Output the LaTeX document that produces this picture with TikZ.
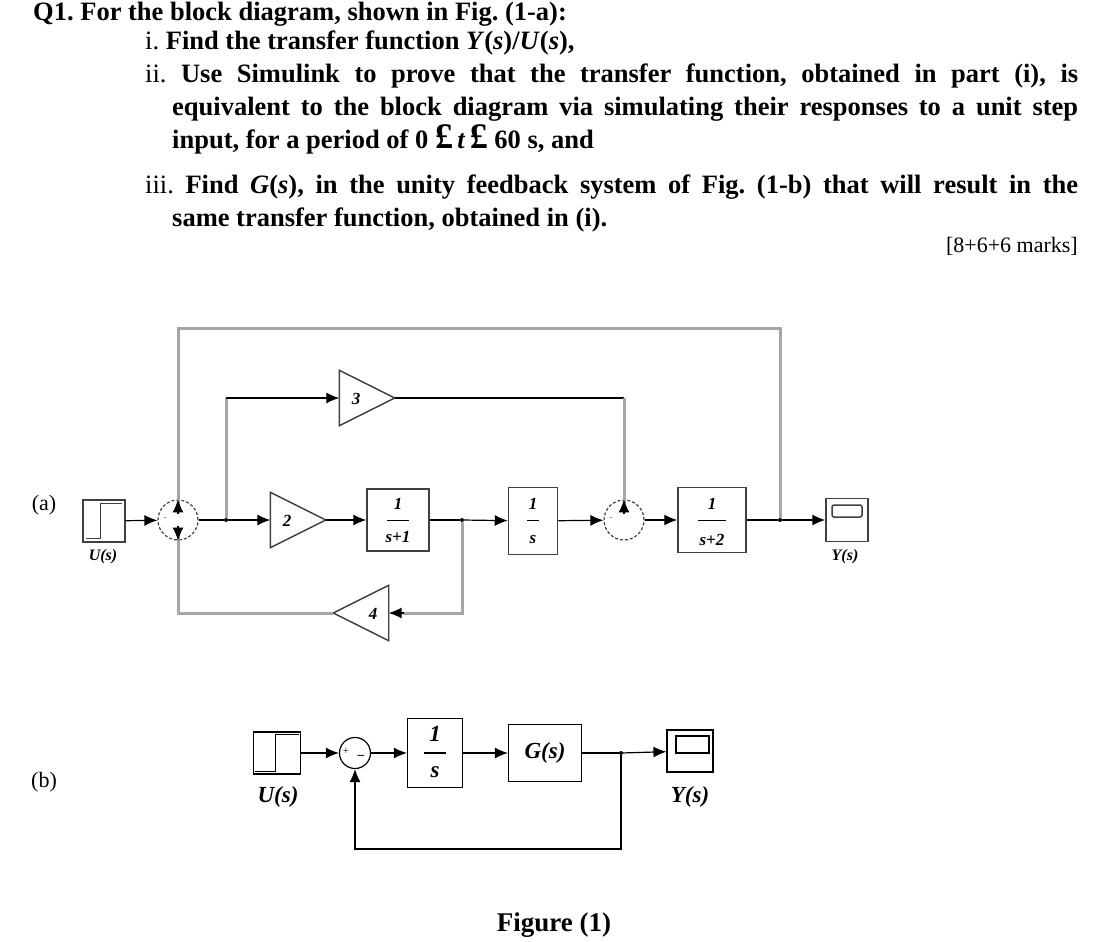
\documentclass[tikz,border=0pt]{standalone}
\usepackage{fontspec}
\setmainfont{Liberation Serif}
\usetikzlibrary{arrows.meta}
\frenchspacing
\begin{document}
\begin{tikzpicture}[x=1pt,y=-1pt,
  ar/.style={-{Latex[length=13pt,width=11pt]},line width=1.2pt},
  gl/.style={draw=gray!70,line width=3pt},
  blk/.style={draw=darkgray,line width=1.5pt,minimum width=#1,inner sep=0pt},
  sumj/.style={circle,draw=darkgray,densely dashed,line width=1.2pt,minimum size=40pt,inner sep=0pt},
  tri/.style={minimum width=55pt,minimum height=55pt,inner sep=0pt},
  dot/.style={circle,fill=black,inner sep=0pt,minimum size=4pt},
  frac/.style={font=\fontsize{17}{18}\selectfont\bfseries\itshape}]
\useasboundingbox (0,0) rectangle (1101,942);
% ---------- text ----------
\node[anchor=west,font=\fontsize{26.5}{30}\selectfont\bfseries,inner sep=0pt] (q) at (33,14) {Q1. For the block diagram, shown in Fig. (1-a):};
\node[anchor=north west,text width=933pt,align=justify,inner sep=0pt,font=\fontsize{26.5}{33}\selectfont] (t) at (145,31) {%
\hangindent=27pt\hangafter=1
i.\ \textbf{Find the transfer function \textit{Y}(\textit{s})/\textit{U}(\textit{s}),}\par
\hangindent=27pt\hangafter=1
ii.\ \textbf{Use Simulink to prove that the transfer function, obtained in part (i), is\linebreak equivalent to the block diagram via simulating their responses to a unit step\linebreak input, for a period of 0 {\fontsize{36}{30}\selectfont £}\,\textit{t}\,{\fontsize{36}{30}\selectfont £} 60 s, and}\par\vspace{12pt}
\hangindent=27pt\hangafter=1
iii.\ \textbf{Find \textit{G}(\textit{s}), in the unity feedback system of Fig. (1-b) that will result in the\linebreak same transfer function, obtained in (i).}\par};
\node[anchor=east,font=\fontsize{22}{24}\selectfont,inner sep=0pt] (mk) at (1078,246) {[8+6+6 marks]};
\node[font=\fontsize{22}{24}\selectfont] (la) at (44,505) {(a)};
\node[font=\fontsize{22}{24}\selectfont] (lb) at (44,782) {(b)};
\node[font=\fontsize{27}{30}\selectfont\bfseries] (fig) at (554,925) {Figure (1)};
% ---------- diagram (a) ----------
\node[blk=42pt,minimum height=42pt] (u) at (104,521) {};
\draw[line width=1.2pt,darkgray] ([shift={(4,-4)}]u.south west) -- ([shift={(18,-4)}]u.south west) -- ([shift={(18,4)}]u.north west) -- ([shift={(-4,4)}]u.north east);
\node[font=\fontsize{16}{16}\selectfont\bfseries\itshape] (ul) at (103,557) {U(s)};
\node[sumj] (s1) at (178,520) {};
\node[font=\scriptsize] at (178,506) {-};
\node[font=\scriptsize] at (165,519) {-};
\node[font=\scriptsize] at (178,531) {-};
\node[dot] (b1) at (226,520) {};
\node[tri] (g2) at (298,520) {};
\draw[darkgray,line width=1.4pt] (g2.north west) -- (g2.east) -- (g2.south west) -- cycle;
\node[frac] at (287,521) {2};
\node[blk=62pt,minimum height=62pt] (h1) at (398,520) {};
\node[frac] at (398,504) {1};
\draw[line width=1pt] (387,520) -- (409,520);
\node[frac] at (398,537) {s+1};
\node[dot] (b2) at (462,520) {};
\node[blk=49pt,minimum height=67pt] (i1) at (533,521) {};
\node[frac] at (533,504) {1};
\draw[line width=1pt] (527,520) -- (539,520);
\node[frac] at (533,540) {s};
\node[sumj] (s2) at (624,520) {};
\node[font=\scriptsize] at (624,506) {-};
\node[font=\scriptsize] at (611,519) {-};
\node[blk=68pt,minimum height=65pt] (h2) at (712,520) {};
\node[frac] at (712,504) {1};
\draw[line width=1pt] (698,520) -- (726,520);
\node[frac] at (712,540) {s+2};
\node[dot] (b3) at (780,520) {};
\node[blk=42pt,minimum height=43pt] (y) at (847,520) {};
\draw[darkgray,line width=1.5pt,rounded corners=2pt] (832,505) rectangle (862,517);
\node[font=\fontsize{16}{16}\selectfont\bfseries\itshape] (yl) at (845,557) {Y(s)};
\node[tri] (g3) at (367,398) {};
\draw[darkgray,line width=1.4pt] (g3.north west) -- (g3.east) -- (g3.south west) -- cycle;
\node[frac] at (356,399) {3};
\node[tri] (g4) at (361,613) {};
\draw[darkgray,line width=1.4pt] (g4.north east) -- (g4.west) -- (g4.south east) -- cycle;
\node[frac] at (373,614) {4};
% connectors (a)
\draw[ar] (u) -- (s1);
\draw[line width=1.2pt] (s1) -- (b1);
\draw[ar] (b1) -- (g2);
\draw[ar] (g2) -- (h1);
\draw[line width=1.2pt] (h1) -- (b2);
\draw[ar] (b2) -- (i1);
\draw[ar] (i1) -- (s2);
\draw[ar] (s2) -- (h2);
\draw[line width=1.2pt] (h2) -- (b3);
\draw[ar] (b3) -- (y);
\coordinate (c1) at (226,398);
\coordinate (c2) at (624,398);
\coordinate (c3) at (780,328);
\coordinate (c4) at (178,328);
\coordinate (c5) at (462,613);
\coordinate (c6) at (178,613);
\draw[gl] (b1) -- (c1);
\draw[ar] (c1) -- (g3);
\draw[line width=1.2pt] (g3) -- (c2);
\draw[gl] (c2) -- ([yshift=-14]s2.north);
\draw[ar] ([yshift=-15]s2.north) -- (s2.north);
\draw[gl] (b3) -- (c3) -- (c4) -- ([yshift=-14]s1.north);
\draw[ar] ([yshift=-15]s1.north) -- (s1.north);
\draw[gl] (b2) -- (c5) -- ([xshift=14]g4.east);
\draw[ar] ([xshift=15]g4.east) -- (g4.east);
\draw[gl] (g4.west) -- (c6) -- ([yshift=14]s1.south);
\draw[ar] ([yshift=15]s1.south) -- (s1.south);
% ---------- diagram (b) ----------
\node[blk=47pt,minimum height=42pt,draw=black] (ub) at (277,753) {};
\draw[line width=1.2pt] ([shift={(2,-3)}]ub.south west) -- ([shift={(23,-3)}]ub.south west) -- ([shift={(23,3)}]ub.north west) -- ([shift={(-2,3)}]ub.north east);
\node[font=\fontsize{23}{24}\selectfont\bfseries\itshape] (ubl) at (278,797) {U(s)};
\node[circle,draw,line width=1.2pt,minimum size=31pt,inner sep=0pt] (sb) at (355,753) {};
\node[font=\fontsize{11}{11}\selectfont] at (346,751) {+};
\node[font=\fontsize{13}{13}\selectfont] at (361,755) {\textbf{\_}};
\node[draw,line width=1.2pt,minimum width=55pt,minimum height=69pt] (ib) at (435,753) {};
\node[font=\fontsize{23}{24}\selectfont\bfseries\itshape] at (435,734) {1};
\draw[line width=1.2pt] (424,753) -- (446,753);
\node[font=\fontsize{23}{24}\selectfont\bfseries\itshape] at (435,772) {s};
\node[draw,line width=1.2pt,minimum width=73pt,minimum height=57pt,font=\fontsize{23}{24}\selectfont\bfseries\itshape] (gb) at (545,753) {G(s)};
\node[dot] (bb) at (621,753) {};
\node[draw,line width=1.2pt,minimum width=46pt,minimum height=42pt] (yb) at (690,751) {};
\draw[line width=1.2pt] (676,736) rectangle (709,753);
\node[font=\fontsize{23}{24}\selectfont\bfseries\itshape] (ybl) at (690,797) {Y(s)};
\coordinate (d1) at (621,849);
\coordinate (d2) at (355,849);
\draw[ar] (ub) -- (sb);
\draw[ar] (sb) -- (ib);
\draw[ar] (ib) -- (gb);
\draw[line width=1.2pt] (gb) -- (bb);
\draw[ar] (bb) -- (yb);
\draw[ar] (bb) -- (d1) -- (d2) -- (sb.south);
\end{tikzpicture}
\end{document}
